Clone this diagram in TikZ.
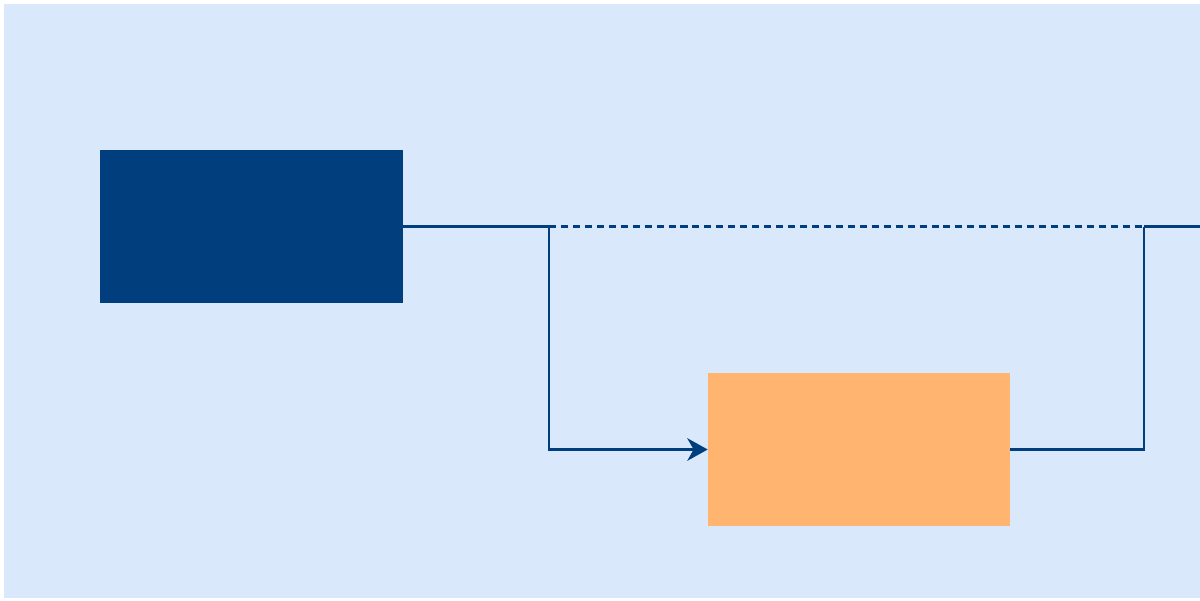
\documentclass[tikz,border=0pt]{standalone}
\usetikzlibrary{arrows.meta}

\definecolor{bgblue}{RGB}{218,232,252}
\definecolor{darkblue}{RGB}{0,62,126}
\definecolor{lightorange}{RGB}{255,181,112}

\tikzset{
    block/.style={minimum width=7.55cm, minimum height=3.825cm, inner sep=0pt},
    wire/.style={draw=darkblue, line width=1.8pt}
}

\begin{document}
\begin{tikzpicture}[x=0.025cm, y=-0.025cm]
        \useasboundingbox (0,0) rectangle (1200,600);
        \fill[bgblue] (4,4) rectangle (1200,598);

        \node[block, fill=darkblue] (source) at (251.5,226.5) {};
        \node[block, fill=lightorange] (branch) at (859,449.5) {};

        \coordinate (split) at (549,226.5);
        \coordinate (merge) at (1144,226.5);
        \coordinate (exit) at (1200,226.5);

        \draw[wire] (source.east) -- (split);
        \draw[wire, dash pattern=on 5pt off 3.5pt] (split) -- (merge);
        \draw[wire] (merge) -- (exit);
        \draw[wire, -{Stealth[length=14.5pt, width=16pt, inset=4.5pt]}] (split) |- (branch.west);
        \draw[wire] (branch.east) -| (merge);
    \end{tikzpicture}
\end{document}
